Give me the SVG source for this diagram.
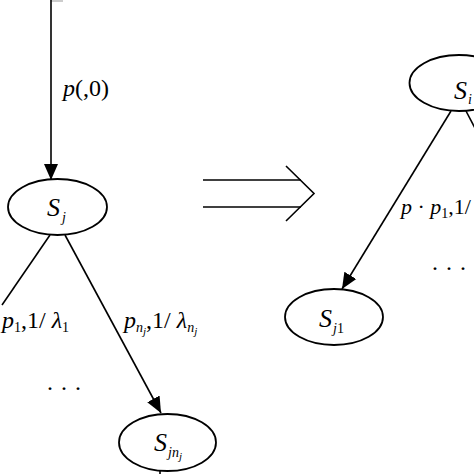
<svg xmlns="http://www.w3.org/2000/svg" width="474" height="474" viewBox="0 0 474 474">
<style>
.edge{stroke:#000;stroke-width:1.6;fill:none}
.node{fill:#fff;stroke:#000;stroke-width:1.8}
.t{font-family:"Liberation Serif","Times New Roman",serif;font-size:24px;fill:#000}
.n{font-size:26px}
.i{font-style:italic}
.sub{font-size:14px}
.subsub{font-size:11px}
</style>
<defs>
<marker id="ah" markerUnits="userSpaceOnUse" markerWidth="16" markerHeight="16" viewBox="0 0 16 16" refX="16" refY="8" orient="auto">
<path d="M0,1 L16,8 L0,15 Z" fill="#000"/>
</marker>
</defs>
<rect x="51" y="0" width="12" height="2" fill="#ccc"/>
<g id="connectors">
<line class="edge" x1="51" y1="0" x2="51" y2="180" marker-end="url(#ah)"/>
<line class="edge" x1="50" y1="235" x2="2" y2="305"/>
<line class="edge" x1="65" y1="235" x2="161" y2="413" marker-end="url(#ah)"/>
<line class="edge" x1="451" y1="111" x2="342" y2="289" marker-end="url(#ah)"/>
<line class="edge" x1="466" y1="111" x2="476" y2="130"/>
<line class="edge" x1="160" y1="471" x2="160" y2="474"/>
</g>
<g id="implies">
<line class="edge" x1="203" y1="180" x2="301" y2="180"/>
<line class="edge" x1="203" y1="207" x2="301" y2="207"/>
<polyline class="edge" points="286,166 314,193.5 286,221"/>
</g>
<g id="labels">
<text class="t" x="63" y="96"><tspan class="i">p</tspan>(,0)</text>
<text class="t" x="2" y="328"><tspan class="i">p</tspan><tspan class="sub" dy="4">1</tspan><tspan dy="-4">,1/ </tspan><tspan class="i">λ</tspan><tspan class="sub" dy="4">1</tspan></text>
<text class="t" x="124" y="328"><tspan class="i">p</tspan><tspan class="sub i" dy="4">n</tspan><tspan class="subsub i" dy="3">j</tspan><tspan dy="-7">,1/ </tspan><tspan class="i">λ</tspan><tspan class="sub i" dy="4">n</tspan><tspan class="subsub i" dy="3">j</tspan></text>
<text class="t" x="401" y="214" style="font-size:22px"><tspan class="i">p</tspan> · <tspan class="i">p</tspan><tspan class="sub" dy="4">1</tspan><tspan dy="-4">,1/</tspan></text>
<text class="t" x="47" y="390" letter-spacing="8">...</text>
<text class="t" x="432" y="270" letter-spacing="8">...</text>
</g>
<g id="node-Sj">
<ellipse class="node" cx="57.5" cy="207" rx="49.5" ry="28"/>
<text class="t n" x="47" y="216"><tspan class="i">S</tspan><tspan class="sub i" dx="2" dy="6">j</tspan></text>
</g>
<g id="node-Si">
<ellipse class="node" cx="459" cy="83" rx="49.5" ry="28"/>
<text class="t n" x="454" y="99"><tspan class="i">S</tspan><tspan class="sub i" dx="1" dy="5">i</tspan></text>
</g>
<g id="node-Sj1">
<ellipse class="node" cx="334" cy="317" rx="49" ry="28"/>
<text class="t n" x="319" y="327"><tspan class="i">S</tspan><tspan class="sub i" dx="1" dy="6">j</tspan><tspan class="sub">1</tspan></text>
</g>
<g id="node-Sjnj">
<ellipse class="node" cx="167.5" cy="442.5" rx="48.5" ry="28.5"/>
<text class="t n" x="154" y="451"><tspan class="i">S</tspan><tspan class="sub i" dx="1" dy="6">jn</tspan><tspan class="subsub i" dy="3">j</tspan></text>
</g>
</svg>
